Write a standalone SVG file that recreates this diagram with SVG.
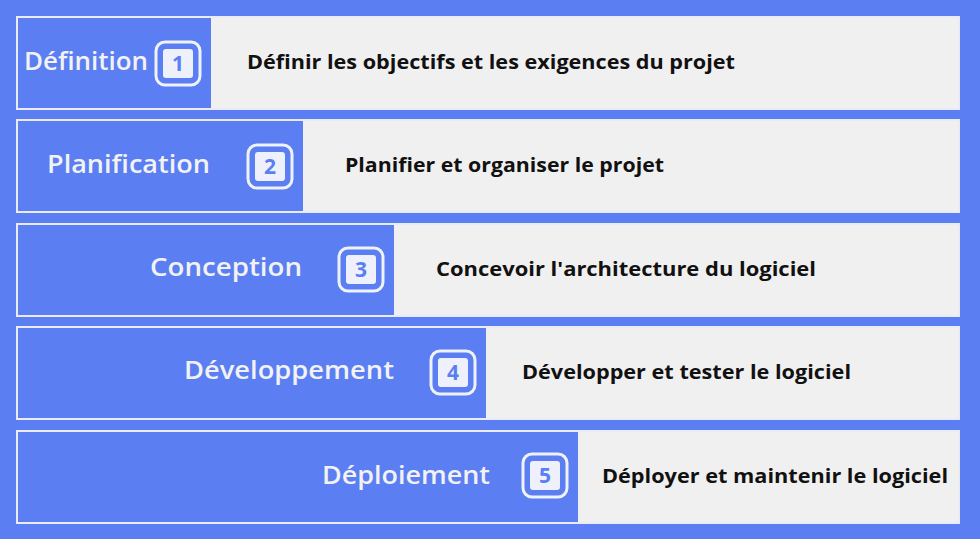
<svg xmlns="http://www.w3.org/2000/svg" width="980" height="539" viewBox="0 0 980 539">
<style>
.bg{fill:#5b7ff2}
.row{fill:#f0f0f0;stroke:#e9ecf6;stroke-width:2}
.band{fill:#5b7ff2}
.lbl{font-family:"Open Sans","Noto Sans",sans-serif;font-weight:600;font-size:25px;fill:#f2f2f2}
.desc{font-family:"Open Sans","Noto Sans",sans-serif;font-weight:700;font-size:20px;fill:#111111}
.box{fill:none;stroke:#f0f2fa;stroke-width:3}
.inner{fill:#eef1fb}
.num{font-family:"Open Sans","Noto Sans",sans-serif;font-weight:700;font-size:21px;fill:#5b7ff2;text-anchor:middle}
</style>
<rect class="bg" x="0" y="0" width="980" height="539"/>
<g id="step1">
<rect class="row" x="17" y="17" width="942" height="92"/>
<rect class="band" x="18" y="18" width="193" height="90"/>
<text class="lbl" x="24" y="70" textLength="124" lengthAdjust="spacingAndGlyphs">Définition</text>
<rect class="box" x="156" y="42" width="44" height="43" rx="9"/>
<rect class="inner" x="163" y="49" width="30" height="29" rx="3"/>
<text class="num" x="178" y="71">1</text>
<text class="desc" x="247" y="69" textLength="488" lengthAdjust="spacingAndGlyphs">Définir les objectifs et les exigences du projet</text>
</g>
<g id="step2">
<rect class="row" x="17" y="120" width="942" height="92"/>
<rect class="band" x="18" y="121" width="285" height="90"/>
<text class="lbl" x="47" y="173" textLength="163" lengthAdjust="spacingAndGlyphs">Planification</text>
<rect class="box" x="248" y="145" width="44" height="43" rx="9"/>
<rect class="inner" x="255" y="152" width="30" height="29" rx="3"/>
<text class="num" x="270" y="174">2</text>
<text class="desc" x="345" y="172" textLength="319" lengthAdjust="spacingAndGlyphs">Planifier et organiser le projet</text>
</g>
<g id="step3">
<rect class="row" x="17" y="224" width="942" height="92"/>
<rect class="band" x="18" y="225" width="376" height="90"/>
<text class="lbl" x="150" y="276" textLength="152" lengthAdjust="spacingAndGlyphs">Conception</text>
<rect class="box" x="339" y="248" width="44" height="43" rx="9"/>
<rect class="inner" x="346" y="255" width="30" height="29" rx="3"/>
<text class="num" x="361" y="277">3</text>
<text class="desc" x="436" y="276" textLength="380" lengthAdjust="spacingAndGlyphs">Concevoir l'architecture du logiciel</text>
</g>
<g id="step4">
<rect class="row" x="17" y="327" width="942" height="92"/>
<rect class="band" x="18" y="328" width="468" height="90"/>
<text class="lbl" x="184" y="379" textLength="210" lengthAdjust="spacingAndGlyphs">Développement</text>
<rect class="box" x="431" y="351" width="44" height="43" rx="9"/>
<rect class="inner" x="438" y="358" width="30" height="29" rx="3"/>
<text class="num" x="453" y="380">4</text>
<text class="desc" x="522" y="379" textLength="329" lengthAdjust="spacingAndGlyphs">Développer et tester le logiciel</text>
</g>
<g id="step5">
<rect class="row" x="17" y="431" width="942" height="92"/>
<rect class="band" x="18" y="432" width="560" height="90"/>
<text class="lbl" x="322" y="484" textLength="168" lengthAdjust="spacingAndGlyphs">Déploiement</text>
<rect class="box" x="523" y="454" width="44" height="43" rx="9"/>
<rect class="inner" x="530" y="461" width="30" height="29" rx="3"/>
<text class="num" x="545" y="483">5</text>
<text class="desc" x="602" y="483" textLength="346" lengthAdjust="spacingAndGlyphs">Déployer et maintenir le logiciel</text>
</g>
<g id="connectors"></g>
</svg>
